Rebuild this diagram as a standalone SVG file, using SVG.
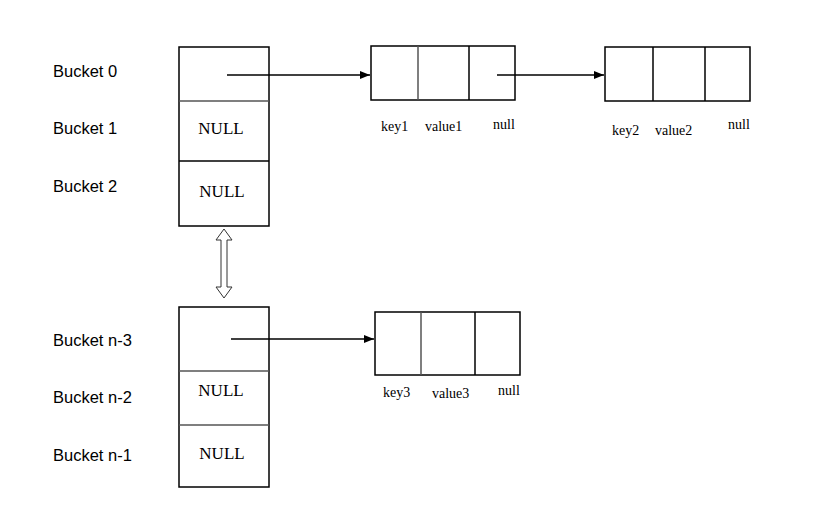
<svg xmlns="http://www.w3.org/2000/svg" width="833" height="531" viewBox="0 0 833 531">
<style>
.b{fill:#fff;stroke:#000;stroke-width:1.5}
.d{stroke:#555;stroke-width:1.5}
.l{font-family:"Liberation Sans",Arial,sans-serif;font-size:16.5px}
.n{font-family:"Liberation Serif","Times New Roman",serif;font-size:17px}
.s{font-family:"Liberation Serif","Times New Roman",serif;font-size:14px}
.c{stroke:#000;stroke-width:1.5;fill:none}
</style>
<defs><marker id="a" markerWidth="10" markerHeight="8" refX="10" refY="4" orient="auto" markerUnits="userSpaceOnUse"><path d="M0,0L10,4L0,8z"/></marker></defs>
<rect width="833" height="531" fill="#fff"/>
<g id="labels">
<text class="l" x="53" y="77">Bucket 0</text>
<text class="l" x="53" y="134">Bucket 1</text>
<text class="l" x="53" y="192">Bucket 2</text>
<text class="l" x="53" y="346">Bucket n-3</text>
<text class="l" x="53" y="403">Bucket n-2</text>
<text class="l" x="53" y="461">Bucket n-1</text>
</g>
<g id="table1">
<rect class="b" x="179" y="47" width="90" height="179"/>
<line class="d" x1="179" y1="101" x2="269" y2="101"/>
<line class="c" x1="179" y1="161" x2="269" y2="161"/>
<text class="n" x="221" y="134" text-anchor="middle">NULL</text>
<text class="n" x="222" y="197" text-anchor="middle">NULL</text>
</g>
<g id="table2">
<rect class="b" x="179" y="307" width="90" height="180"/>
<line class="d" x1="179" y1="371" x2="269" y2="371"/>
<line class="d" x1="179" y1="425" x2="269" y2="425"/>
<text class="n" x="221" y="396" text-anchor="middle">NULL</text>
<text class="n" x="222" y="459" text-anchor="middle">NULL</text>
</g>
<g id="entry1">
<rect class="b" x="371" y="46" width="144" height="54"/>
<line class="d" x1="418" y1="46" x2="418" y2="100"/>
<line class="c" x1="469" y1="46" x2="469" y2="100"/>
<text class="s" x="381" y="131">key1</text><text class="s" x="425" y="131">value1</text><text class="s" x="493" y="129">null</text>
</g>
<g id="entry2">
<rect class="b" x="605" y="47" width="145" height="54"/>
<line class="c" x1="653" y1="47" x2="653" y2="101"/>
<line class="c" x1="705" y1="47" x2="705" y2="101"/>
<text class="s" x="612" y="135">key2</text><text class="s" x="655" y="135">value2</text><text class="s" x="728" y="129">null</text>
</g>
<g id="entry3">
<rect class="b" x="375" y="312" width="145" height="63"/>
<line class="d" x1="421" y1="312" x2="421" y2="375"/>
<line class="c" x1="475" y1="312" x2="475" y2="375"/>
<text class="s" x="383" y="397">key3</text><text class="s" x="432" y="398">value3</text><text class="s" x="498" y="395">null</text>
</g>
<g id="connectors">
<line class="c" stroke="#444" x1="227" y1="75" x2="370" y2="75" marker-end="url(#a)"/>
<line class="c" stroke="#444" x1="497" y1="75" x2="604" y2="75" marker-end="url(#a)"/>
<line class="c" x1="231" y1="339" x2="374" y2="339" marker-end="url(#a)"/>
<path d="M224,229 L232,240 L227,240 L227,287 L232,287 L224,298 L216,287 L221,287 L221,240 L216,240 Z" fill="#fff" stroke="#333" stroke-width="1"/>
</g>
</svg>
